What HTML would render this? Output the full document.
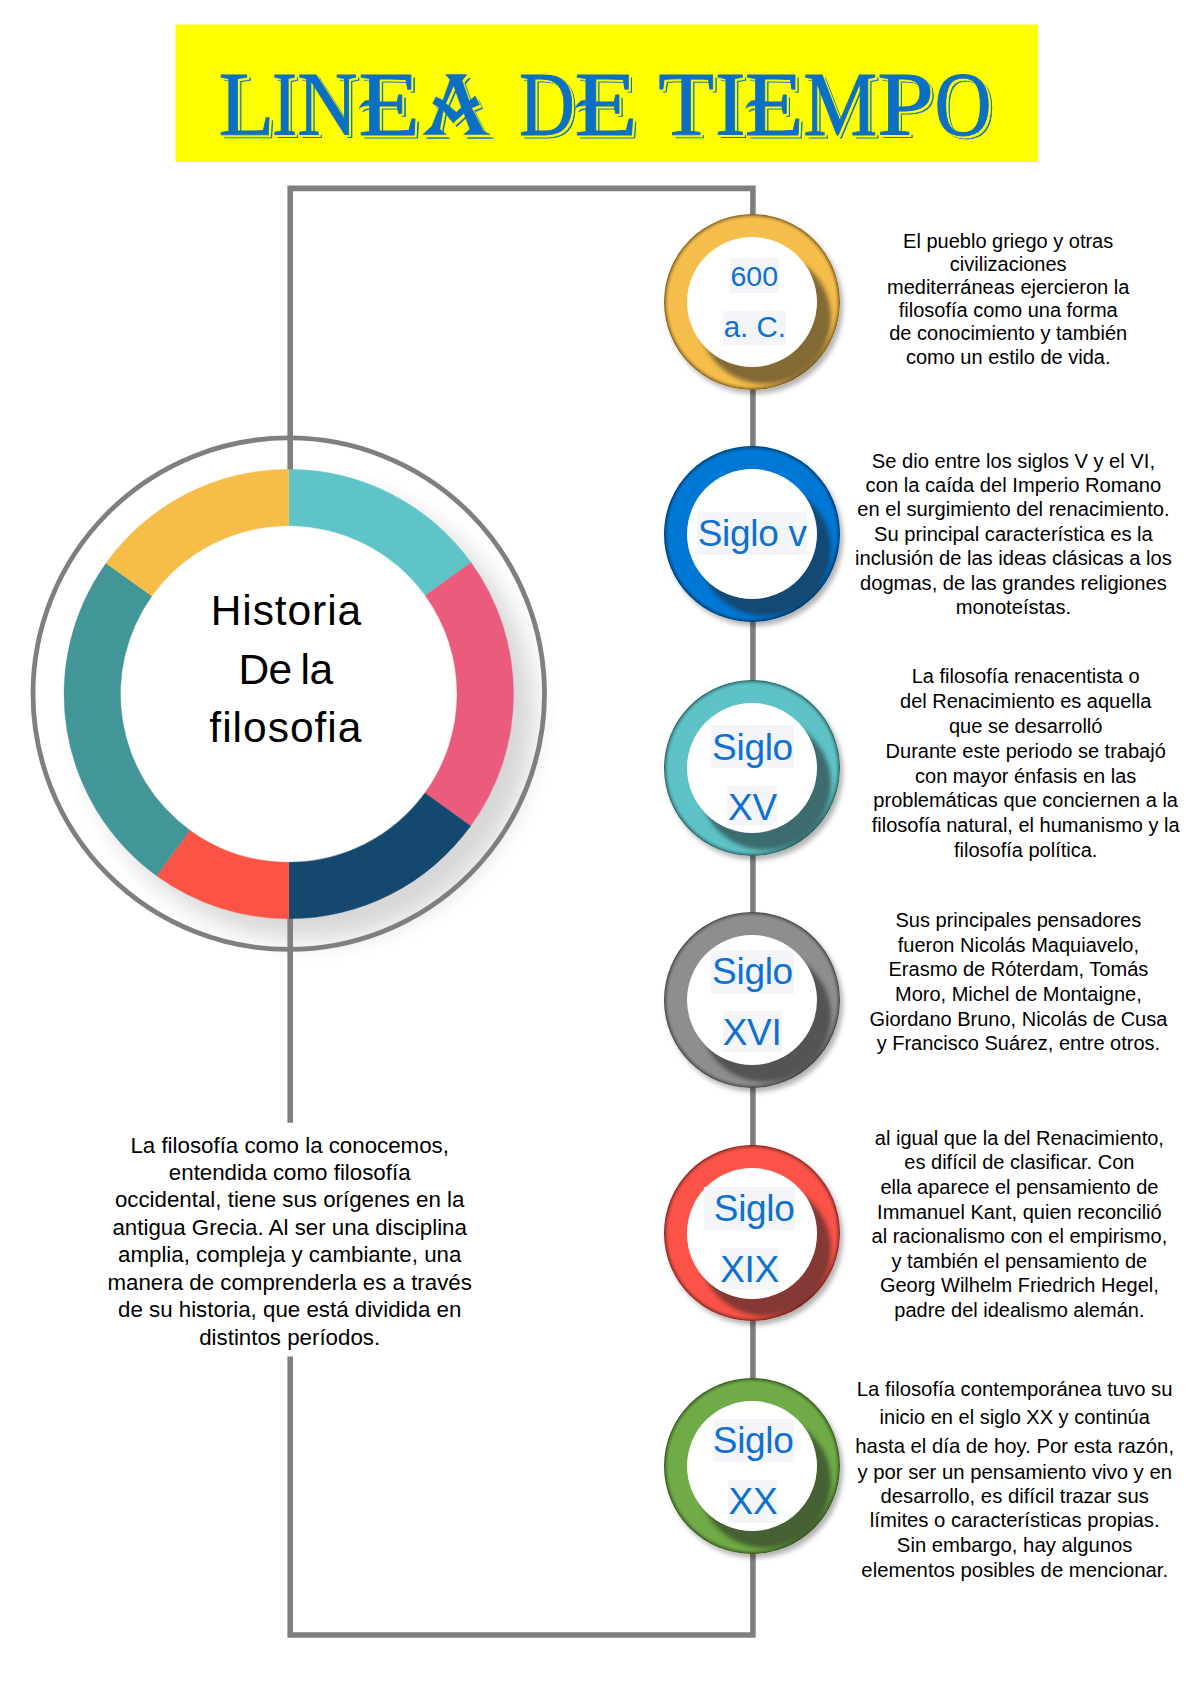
<!DOCTYPE html>
<html lang="es"><head><meta charset="utf-8"><title>Linea de tiempo</title>
<style>
html,body{margin:0;padding:0;background:#fff;}
body{width:1200px;height:1696px;position:relative;overflow:hidden;font-family:"Liberation Sans",sans-serif;color:#000;}
svg{position:absolute;left:0;top:0;}
.t{position:absolute;text-align:center;white-space:nowrap;font-size:20px;line-height:24.4px;}
.ring{position:absolute;width:176px;height:176px;border-radius:50%;overflow:hidden;}
.ringsh{position:absolute;width:176px;height:176px;border-radius:50%;box-shadow:3px 4px 5px rgba(0,0,0,.30);}
.ring:after{content:"";position:absolute;left:0;top:0;width:176px;height:176px;border-radius:50%;background:radial-gradient(circle closest-side,rgba(0,0,0,0) 0,rgba(0,0,0,0) 94.5%,rgba(0,0,0,.14) 97%,rgba(0,0,0,.36) 98.8%,rgba(0,0,0,.58) 100%);}
.in{position:absolute;left:22.8px;top:22.8px;width:130.4px;height:130.4px;border-radius:50%;background:#fff;box-shadow:13px 16px 4px 1px rgba(36,36,36,.54);}
.hl{position:absolute;background:#f3f5f9;}
.lb{position:absolute;color:#0e70d0;white-space:nowrap;text-align:center;font-size:37px;line-height:40px;height:40px;letter-spacing:-0.3px;}
.c{position:absolute;text-align:center;white-space:nowrap;}
</style></head><body>

<svg width="1200" height="1696" viewBox="0 0 1200 1696">
<defs><filter id="bl" x="-20%" y="-20%" width="140%" height="140%"><feGaussianBlur stdDeviation="13"/></filter></defs>
<rect x="175.5" y="24.5" width="862.5" height="137.5" fill="#ffff00"/>
<g fill="#0b6fc3" stroke="#0b6fc3" stroke-width="0.8" stroke-linejoin="round" font-family="Liberation Serif" font-size="92"><text transform="translate(221.96,138.30) scale(0.9986,1)">L</text><text transform="translate(275.27,138.30) scale(0.8234,1)">I</text><text transform="translate(300.54,138.30) scale(0.9088,1)">N</text><text transform="translate(361.65,138.30) scale(1.1000,1)">E</text><path transform="translate(3.40,3.80)" stroke-width="0.4" d="M369.5,100.3 L365.0,100.8 Q361.5,103 359.0,108.3 Q363.5,105.2 369.5,105.6Z"/><path transform="translate(3.40,3.80)" fill-rule="evenodd" stroke-width="0.5" d="M445.5,74.4 L467.1,74.4 L462.1,80.4 L469.2,100.9 L475.2,96.0 L479.5,104.8 L471.7,108.0 L483.4,131.0 L490.1,134.6 L463.5,134.6 L469.9,129.3 L463.9,113.3 L453.2,122.9 L443.3,110.5 L439.8,128.9 L446.2,134.6 L422.8,134.6 L432.0,126.1 L439.1,107.7 L432.7,103.4 L435.9,97.0 L443.0,100.2 L450.1,79.7Z M453.6,85.7 L461.4,107.3 L456.4,112.3 L445.8,103.4Z"/><text transform="translate(522.28,138.30) scale(0.8423,1)">D</text><text transform="translate(577.59,138.30) scale(1.1300,1)">E</text><path transform="translate(3.40,3.80)" stroke-width="0.4" d="M585.5,100.3 L581.0,100.8 Q577.5,103 575.0,108.3 Q579.5,105.2 585.5,105.6Z"/><text transform="translate(661.68,138.30) scale(0.9967,1)">T</text><text transform="translate(718.10,138.30) scale(1.0109,1)">I</text><text transform="translate(748.05,138.30) scale(1.0501,1)">E</text><path transform="translate(3.40,3.80)" stroke-width="0.4" d="M755.8,100.3 L751.3,100.8 Q747.8,103 745.3,108.3 Q749.8,105.2 755.8,105.6Z"/><text transform="translate(806.55,138.30) scale(0.9049,1)">M</text><text transform="translate(880.32,138.30) scale(1.1174,1)">P</text><text transform="translate(937.97,138.30) scale(0.8589,1)">O</text></g>
<g fill="#ffff00" stroke="#ffff00" stroke-width="0.8" stroke-linejoin="round" font-family="Liberation Serif" font-size="92"><text transform="translate(220.66,137.00) scale(0.9986,1)">L</text><text transform="translate(273.98,137.00) scale(0.8234,1)">I</text><text transform="translate(299.24,137.00) scale(0.9088,1)">N</text><text transform="translate(360.35,137.00) scale(1.1000,1)">E</text><path transform="translate(2.10,2.50)" stroke-width="0.4" d="M369.5,100.3 L365.0,100.8 Q361.5,103 359.0,108.3 Q363.5,105.2 369.5,105.6Z"/><path transform="translate(2.10,2.50)" fill-rule="evenodd" stroke-width="0.5" d="M445.5,74.4 L467.1,74.4 L462.1,80.4 L469.2,100.9 L475.2,96.0 L479.5,104.8 L471.7,108.0 L483.4,131.0 L490.1,134.6 L463.5,134.6 L469.9,129.3 L463.9,113.3 L453.2,122.9 L443.3,110.5 L439.8,128.9 L446.2,134.6 L422.8,134.6 L432.0,126.1 L439.1,107.7 L432.7,103.4 L435.9,97.0 L443.0,100.2 L450.1,79.7Z M453.6,85.7 L461.4,107.3 L456.4,112.3 L445.8,103.4Z"/><text transform="translate(520.98,137.00) scale(0.8423,1)">D</text><text transform="translate(576.29,137.00) scale(1.1300,1)">E</text><path transform="translate(2.10,2.50)" stroke-width="0.4" d="M585.5,100.3 L581.0,100.8 Q577.5,103 575.0,108.3 Q579.5,105.2 585.5,105.6Z"/><text transform="translate(660.38,137.00) scale(0.9967,1)">T</text><text transform="translate(716.80,137.00) scale(1.0109,1)">I</text><text transform="translate(746.75,137.00) scale(1.0501,1)">E</text><path transform="translate(2.10,2.50)" stroke-width="0.4" d="M755.8,100.3 L751.3,100.8 Q747.8,103 745.3,108.3 Q749.8,105.2 755.8,105.6Z"/><text transform="translate(805.25,137.00) scale(0.9049,1)">M</text><text transform="translate(879.02,137.00) scale(1.1174,1)">P</text><text transform="translate(936.67,137.00) scale(0.8589,1)">O</text></g>
<g fill="#0b6fc3" stroke="#0b6fc3" stroke-width="0.8" stroke-linejoin="round" font-family="Liberation Serif" font-size="92"><text transform="translate(218.56,134.50) scale(0.9986,1)">L</text><text transform="translate(271.88,134.50) scale(0.8234,1)">I</text><text transform="translate(297.14,134.50) scale(0.9088,1)">N</text><text transform="translate(358.25,134.50) scale(1.1000,1)">E</text><path transform="translate(0.00,0.00)" stroke-width="0.4" d="M369.5,100.3 L365.0,100.8 Q361.5,103 359.0,108.3 Q363.5,105.2 369.5,105.6Z"/><path transform="translate(0.00,0.00)" fill-rule="evenodd" stroke-width="0.5" d="M445.5,74.4 L467.1,74.4 L462.1,80.4 L469.2,100.9 L475.2,96.0 L479.5,104.8 L471.7,108.0 L483.4,131.0 L490.1,134.6 L463.5,134.6 L469.9,129.3 L463.9,113.3 L453.2,122.9 L443.3,110.5 L439.8,128.9 L446.2,134.6 L422.8,134.6 L432.0,126.1 L439.1,107.7 L432.7,103.4 L435.9,97.0 L443.0,100.2 L450.1,79.7Z M453.6,85.7 L461.4,107.3 L456.4,112.3 L445.8,103.4Z"/><text transform="translate(518.88,134.50) scale(0.8423,1)">D</text><text transform="translate(574.19,134.50) scale(1.1300,1)">E</text><path transform="translate(0.00,0.00)" stroke-width="0.4" d="M585.5,100.3 L581.0,100.8 Q577.5,103 575.0,108.3 Q579.5,105.2 585.5,105.6Z"/><text transform="translate(658.28,134.50) scale(0.9967,1)">T</text><text transform="translate(714.70,134.50) scale(1.0109,1)">I</text><text transform="translate(744.65,134.50) scale(1.0501,1)">E</text><path transform="translate(0.00,0.00)" stroke-width="0.4" d="M755.8,100.3 L751.3,100.8 Q747.8,103 745.3,108.3 Q749.8,105.2 755.8,105.6Z"/><text transform="translate(803.15,134.50) scale(0.9049,1)">M</text><text transform="translate(876.92,134.50) scale(1.1174,1)">P</text><text transform="translate(934.57,134.50) scale(0.8589,1)">O</text></g>
<circle cx="308.75" cy="714.0" r="226" fill="#000" opacity="0.155" filter="url(#bl)"/>
<g fill="none" stroke="#7f7f7f" stroke-width="5.6">
<path d="M290.2 1122.7 V188.4 H752.9 V1635 H290.2 V1356.5"/>
</g>
<circle cx="288.75" cy="693.7" r="255.75" fill="none" stroke="#7f7f7f" stroke-width="4.8"/>
<circle cx="288.75" cy="694.0" r="223.75" fill="#fff"/>
<path d="M288.75 469.25 A224.75 224.75 0 0 1 471.04 562.53 L425.25 595.55 A168.3 168.3 0 0 0 288.75 525.70 Z" fill="#5ec4c7" stroke="#5ec4c7" stroke-width="0.4"/>
<path d="M471.04 562.53 A224.75 224.75 0 0 1 470.58 826.10 L424.91 792.92 A168.3 168.3 0 0 0 425.25 595.55 Z" fill="#ea5b7c" stroke="#ea5b7c" stroke-width="0.4"/>
<path d="M470.58 826.10 A224.75 224.75 0 0 1 288.75 918.75 L288.75 862.30 A168.3 168.3 0 0 0 424.91 792.92 Z" fill="#14486f" stroke="#14486f" stroke-width="0.4"/>
<path d="M288.75 918.75 A224.75 224.75 0 0 1 156.65 875.83 L189.83 830.16 A168.3 168.3 0 0 0 288.75 862.30 Z" fill="#fc5347" stroke="#fc5347" stroke-width="0.4"/>
<path d="M156.65 875.83 A224.75 224.75 0 0 1 106.01 563.17 L151.91 596.03 A168.3 168.3 0 0 0 189.83 830.16 Z" fill="#429697" stroke="#429697" stroke-width="0.4"/>
<path d="M106.01 563.17 A224.75 224.75 0 0 1 288.75 469.25 L288.75 525.70 A168.3 168.3 0 0 0 151.91 596.03 Z" fill="#f6bd49" stroke="#f6bd49" stroke-width="0.4"/>
</svg>
<div class="c" style="left:-13.6px;width:600px;top:584.77px;font-size:42.5px;line-height:51.0px;letter-spacing:0.9px;">Historia</div>
<div class="c" style="left:-14.5px;width:600px;top:644.47px;font-size:42.5px;line-height:51.0px;letter-spacing:-0.6px;word-spacing:-2.2px;">De la</div>
<div class="c" style="left:-14.1px;width:600px;top:702.27px;font-size:42.5px;line-height:51.0px;letter-spacing:1.0px;">filosofia</div>
<div class="t" style="left:39.7px;width:500px;top:1131.54px;font-size:22.3px;line-height:27.46px"><div>La filosofía como la conocemos,</div><div>entendida como filosofía</div><div>occidental, tiene sus orígenes en la</div><div>antigua Grecia. Al ser una disciplina</div><div>amplia, compleja y cambiante, una</div><div>manera de comprenderla es a través</div><div>de su historia, que está dividida en</div><div>distintos períodos.</div></div>
<div class="t" style="left:758.2px;width:500px;top:229.67px;font-size:20px;line-height:23.2px"><div>El pueblo griego y otras</div><div>civilizaciones</div><div>mediterráneas ejercieron la</div><div>filosofía como una forma</div><div>de conocimiento y también</div><div>como un estilo de vida.</div></div>
<div class="t" style="left:763.4px;width:500px;top:448.61px;font-size:20.15px;line-height:24.42px"><div>Se dio entre los siglos V y el VI,</div><div>con la caída del Imperio Romano</div><div>en el surgimiento del renacimiento.</div><div>Su principal característica es la</div><div>inclusión de las ideas clásicas a los</div><div>dogmas, de las grandes religiones</div><div>monoteístas.</div></div>
<div class="t" style="left:775.7px;width:500px;top:664.14px;font-size:20px;line-height:24.85px"><div>La filosofía renacentista o</div><div>del Renacimiento es aquella</div><div>que se desarrolló</div><div>Durante este periodo se trabajó</div><div>con mayor énfasis en las</div><div>problemáticas que conciernen a la</div><div>filosofía natural, el humanismo y la</div><div>filosofía política.</div></div>
<div class="t" style="left:768.4px;width:500px;top:907.93px;font-size:20px;line-height:24.68px"><div>Sus principales pensadores</div><div>fueron Nicolás Maquiavelo,</div><div>Erasmo de Róterdam, Tomás</div><div>Moro, Michel de Montaigne,</div><div>Giordano Bruno, Nicolás de Cusa</div><div>y Francisco Suárez, entre otros.</div></div>
<div class="t" style="left:769.4px;width:500px;top:1125.77px;font-size:20px;line-height:24.6px"><div>al igual que la del Renacimiento,</div><div>es difícil de clasificar. Con</div><div>ella aparece el pensamiento de</div><div>Immanuel Kant, quien reconcilió</div><div>al racionalismo con el empirismo,</div><div>y también el pensamiento de</div><div>Georg Wilhelm Friedrich Hegel,</div><div>padre del idealismo alemán.</div></div>
<div class="t" style="left:764.7px;width:500px;top:1376.67px;font-size:20.3px;line-height:24.4px">La filosofía contemporánea tuvo su</div>
<div class="t" style="left:764.7px;width:500px;top:1404.77px;font-size:20.3px;line-height:24.4px"><span style="font-size:20px">inicio en el siglo XX y continúa</span></div>
<div class="t" style="left:764.7px;width:500px;top:1433.57px;font-size:20.3px;line-height:24.4px">hasta el día de hoy. Por esta razón,</div>
<div class="t" style="left:764.7px;width:500px;top:1459.77px;font-size:20.3px;line-height:24.4px">y por ser un pensamiento vivo y en</div>
<div class="t" style="left:764.7px;width:500px;top:1484.07px;font-size:20.3px;line-height:24.4px">desarrollo, es difícil trazar sus</div>
<div class="t" style="left:764.7px;width:500px;top:1508.47px;font-size:20.3px;line-height:24.4px">límites o características propias.</div>
<div class="t" style="left:764.7px;width:500px;top:1533.07px;font-size:20.3px;line-height:24.4px">Sin embargo, hay algunos</div>
<div class="t" style="left:764.7px;width:500px;top:1557.77px;font-size:20.3px;line-height:24.4px">elementos posibles de mencionar.</div>
<div class="ringsh" style="left:664px;top:214.2px"></div>
<div class="ring" style="left:664px;top:214.2px;background:#f5bd49"><div class="in"></div></div>
<div class="ringsh" style="left:664px;top:446.3px"></div>
<div class="ring" style="left:664px;top:446.3px;background:#0078d6"><div class="in"></div></div>
<div class="ringsh" style="left:664px;top:679.8px"></div>
<div class="ring" style="left:664px;top:679.8px;background:#5dc3c6"><div class="in"></div></div>
<div class="ringsh" style="left:664px;top:912.1px"></div>
<div class="ring" style="left:664px;top:912.1px;background:#8e8e8e"><div class="in"></div></div>
<div class="ringsh" style="left:664px;top:1145.4px"></div>
<div class="ring" style="left:664px;top:1145.4px;background:#fb5348"><div class="in"></div></div>
<div class="ringsh" style="left:664px;top:1378.0px"></div>
<div class="ring" style="left:664px;top:1378.0px;background:#6fab46"><div class="in"></div></div>
<div class="hl" style="left:729.8px;top:258.2px;width:49.0px;height:34.8px"></div>
<div class="lb" style="left:654.3px;width:200px;top:256.37px;font-size:28.5px;letter-spacing:0px">600</div>
<div class="hl" style="left:722.9px;top:310.6px;width:63.4px;height:34.3px"></div>
<div class="lb" style="left:654.8px;width:200px;top:307.38px;font-size:29.5px;letter-spacing:0px">a. C.</div>
<div class="hl" style="left:696.5px;top:512.2px;width:110.7px;height:43.1px"></div>
<div class="lb" style="left:652.2px;width:200px;top:514.18px;font-size:37px;letter-spacing:-0.3px">Siglo v</div>
<div class="hl" style="left:711.1px;top:725.1px;width:82.5px;height:43.4px"></div>
<div class="lb" style="left:652.5px;width:200px;top:727.68px;font-size:37px;letter-spacing:-0.3px">Siglo</div>
<div class="hl" style="left:726.7px;top:786.1px;width:50.8px;height:38.9px"></div>
<div class="lb" style="left:652.5px;width:200px;top:788.18px;font-size:37px;letter-spacing:-0.3px">XV</div>
<div class="hl" style="left:711.1px;top:950.1px;width:82.5px;height:43.5px"></div>
<div class="lb" style="left:652.5px;width:200px;top:952.48px;font-size:37px;letter-spacing:-0.3px">Siglo</div>
<div class="hl" style="left:722.9px;top:1011.0px;width:58.8px;height:41.3px"></div>
<div class="lb" style="left:652.0px;width:200px;top:1012.98px;font-size:37px;letter-spacing:-0.3px">XVI</div>
<div class="hl" style="left:703.8px;top:1186.8px;width:91.1px;height:43.1px"></div>
<div class="lb" style="left:654.2px;width:200px;top:1188.88px;font-size:37px;letter-spacing:-0.3px">Siglo</div>
<div class="hl" style="left:720.1px;top:1247.7px;width:58.9px;height:41.8px"></div>
<div class="lb" style="left:649.5px;width:200px;top:1250.18px;font-size:37px;letter-spacing:-0.3px">XIX</div>
<div class="hl" style="left:712.8px;top:1419.0px;width:80.8px;height:42.8px"></div>
<div class="lb" style="left:653.2px;width:200px;top:1421.08px;font-size:37px;letter-spacing:-0.3px">Siglo</div>
<div class="hl" style="left:728.4px;top:1480.0px;width:49.1px;height:42.8px"></div>
<div class="lb" style="left:652.9px;width:200px;top:1481.58px;font-size:37px;letter-spacing:-0.3px">XX</div>
</body></html>
